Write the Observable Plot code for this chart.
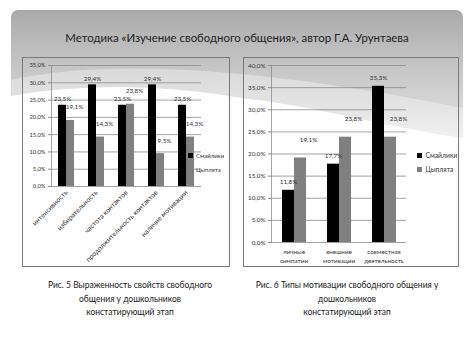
<!DOCTYPE html>
<html><head><meta charset="utf-8">
<script src="https://cdn.jsdelivr.net/npm/d3@7"></script>
<script src="https://cdn.jsdelivr.net/npm/@observablehq/plot@0.6"></script>
<style>
body{margin:0;background:#fff;}
#page{position:relative;width:474px;height:355px;overflow:hidden;font-family:Lato,"Open Sans",sans-serif;color:#222;}
#panel{position:absolute;left:11px;top:10px;width:452px;height:345px;border-radius:7px 7px 0 0;background:linear-gradient(#a9a9a9 0px,#bcbcbc 35px,#cbcbcb 70px,#d8d8d8 100px,#e8e8e8 125px,#fff 150px);}
#swoosh{position:absolute;left:11px;top:10px;}
#title{position:absolute;left:0;width:474px;top:31px;text-align:center;font-size:11.4px;color:#222;}
.chart{position:absolute;top:57px;}
.chart svg{display:block;overflow:visible;}
.frame{position:absolute;top:57px;height:210px;border:1.5px solid #7a7a7a;box-sizing:border-box;}
.leg{position:absolute;}
.leg *{font-family:Lato,sans-serif !important;color:#333 !important;}
.leg [class$="-swatch"]{margin-bottom:4px !important;line-height:9px !important;}
.cap{position:absolute;top:279px;text-align:center;font-size:8.5px;line-height:13.5px;color:#222;}
</style></head>
<body>
<div id="page">
  <div id="panel"></div>
  <svg id="swoosh" width="452" height="345">
    <path d="M0,70 C100,48 250,58 452,98 L452,128 C380,118 300,95 230,88 C160,76 80,72 0,86 Z" fill="#fff" fill-opacity="0.35"/>
    <path d="M0,86 C80,72 160,76 230,88 C300,95 380,118 452,128 L452,345 L0,345 Z" fill="#fff"/>
  </svg>
  <div id="title">Методика «Изучение свободного общения», автор Г.А. Урунтаева</div>
  <div class="frame" style="left:22px;width:208px;"></div>
  <div class="frame" style="left:243px;width:216px;"></div>
  <div id="chartL" class="chart" style="left:23px;"></div>
  <div id="chartR" class="chart" style="left:244px;"></div>
  <div id="legL" class="leg" style="left:188px;top:151px;"></div>
  <div id="legR" class="leg" style="left:417px;top:151px;"></div>
  <div class="cap" style="left:0px;width:260px;">Рис. 5 Выраженность свойств свободного<br>общения у дошкольников<br>констатирующий этап</div>
  <div class="cap" style="left:217px;width:260px;">Рис. 6 Типы мотивации свободного общения у<br>дошкольников<br>констатирующий этап</div>
</div>
<script>
const series = ["Смайлики", "Цыплята"];
const colors = ["#000000", "#808080"];

const catsL = ["интенсивность", "избирательность", "частота контактов", "продолжительность контактов", "наличие мотивации"];
const smileL = [23.5, 29.4, 23.5, 29.4, 23.5];
const chickL = [19.1, 14.3, 23.8, 9.5, 14.3];
const ticksL = [0, 5, 10, 15, 20, 25, 30, 35];

const catsR = ["личные симпатии", "внешние мотивации", "совместная деятельность"];
const smileR = [11.8, 17.7, 35.3];
const chickR = [19.1, 23.8, 23.8];
const ticksR = [0, 5, 10, 15, 20, 25, 30, 35, 40];

const fmt = v => v.toFixed(1).replace(".", ",") + "%";
const rows = (cats, a, b) => cats.flatMap((c, i) => [
  {cat: c, s: series[0], v: a[i]},
  {cat: c, s: series[1], v: b[i]}
]);

function chart(o) {
  const data = rows(o.cats, o.a, o.b);
  return Plot.plot({
    width: o.w, height: 210,
    marginTop: 8, marginBottom: o.mb, marginLeft: o.ml, marginRight: o.mr,
    style: {fontFamily: "Lato, sans-serif", fontSize: "6.5px", background: "transparent", color: "#333"},
    fx: {domain: o.cats, padding: 0, label: null},
    x: {domain: series, paddingInner: 0, paddingOuter: o.po, axis: null},
    y: {domain: [0, o.max], label: null},
    color: {domain: series, range: colors},
    marks: [
      Plot.gridY(o.ticks, {stroke: "#8c8c8c", strokeOpacity: 1, strokeWidth: 0.8}),
      Plot.frame({anchor: "left", facetAnchor: "left", stroke: "#8c8c8c", strokeWidth: 0.8}),
      Plot.barY(data, {fx: "cat", x: "s", y: "v", fill: "s"}),
      Plot.text(data.filter(d => d.s === series[0]), {fx: "cat", x: "s", y: "v", text: d => fmt(d.v), dy: o.bdy, fill: "#333", fontSize: 6.3}),
      Plot.text(data.filter(d => d.s === series[1]), {fx: "cat", x: "s", y: "v", text: d => fmt(d.v), dy: o.gdy, dx: o.gdx, fill: "#333", fontSize: 6.3}),
      Plot.axisY(o.ticks, {tickFormat: fmt, tickSize: 3, tickPadding: 3, stroke: "#8c8c8c", label: null, fontSize: o.yfs}),
      o.rot
        ? Plot.axisFx({anchor: "bottom", tickRotate: -45, tickSize: 0, tickPadding: 5, label: null, fontSize: 6.8})
        : Plot.axisFx({anchor: "bottom", tickSize: 0, tickPadding: 5, label: null, fontSize: 6.3, lineHeight: 1.45, tickFormat: d => d.replace(" ", "\n")})
    ]
  });
}

document.getElementById("chartL").append(chart({
  cats: catsL, a: smileL, b: chickL, ticks: ticksL, max: 35,
  w: 206, ml: 27, mr: 28, mb: 81, po: 0.67, bdy: -6, gdy: -13, gdx: 4, yfs: 5.8, rot: true
}));
document.getElementById("chartR").append(chart({
  cats: catsR, a: smileR, b: chickR, ticks: ticksR, max: 40,
  w: 214, ml: 26, mr: 51, mb: 25, po: 0.75, bdy: -8, gdy: -18, gdx: 8, yfs: 6.3, rot: false
}));

const leg = (fs) => Plot.legend({
  color: {domain: series, range: colors},
  legend: "swatches", columns: 1, swatchSize: 5,
  style: {fontSize: fs + "px", fontFamily: "Lato, sans-serif"}
});
document.getElementById("legL").append(leg(6));
document.getElementById("legR").append(leg(6.8));
</script>
</body></html>
